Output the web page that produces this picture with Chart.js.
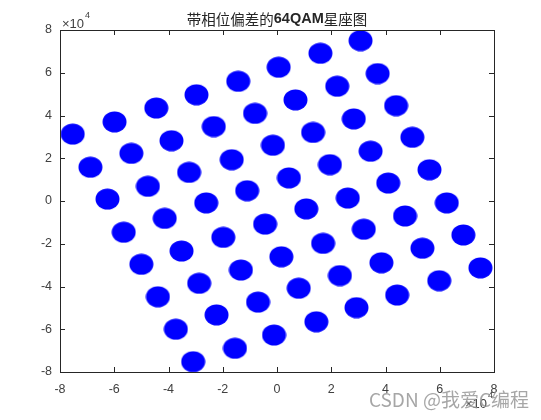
<!DOCTYPE html>
<html>
<head>
<meta charset="utf-8">
<script src="https://cdn.jsdelivr.net/npm/chart.js@4"></script>
<style>
  html, body { margin: 0; padding: 0; background: #fff; }
  #wrap { width: 541px; height: 420px; }
</style>
</head>
<body>
<div id="wrap"><canvas id="qam"></canvas></div>
<script>
// cluster centres (units of 1e4)
const inPhase = [
  -7.53, -5.99, -4.45, -2.97, -1.43, 0.06, 1.60, 3.08,
  -6.88, -5.37, -3.89, -2.33, -0.81, 0.68, 2.22, 3.71,
  -6.25, -4.76, -3.24, -1.67, -0.15, 1.33, 2.83, 4.39,
  -5.65, -4.14, -2.61, -1.10, 0.44, 1.95, 3.45, 4.99,
  -5.00, -3.52, -1.98, -0.44, 1.08, 2.61, 4.10, 5.62,
  -4.39, -2.87, -1.33, 0.16, 1.70, 3.20, 4.72, 6.26,
  -3.73, -2.23, -0.70, 0.80, 2.32, 3.85, 5.36, 6.87,
  -3.09, -1.55, -0.11, 1.45, 2.93, 4.43, 5.98, 7.50,
];
const quadrature = [
  3.13, 3.70, 4.35, 4.97, 5.60, 6.26, 6.91, 7.50,
  1.58, 2.23, 2.82, 3.48, 4.10, 4.73, 5.37, 5.96,
  0.09, 0.69, 1.34, 1.93, 2.61, 3.21, 3.84, 4.46,
  -1.46, -0.81, -0.09, 0.48, 1.08, 1.70, 2.33, 2.98,
  -2.96, -2.34, -1.70, -1.08, -0.37, 0.14, 0.84, 1.46,
  -4.48, -3.85, -3.23, -2.61, -1.98, -1.32, -0.70, -0.09,
  -6.00, -5.33, -4.73, -4.08, -3.49, -2.89, -2.21, -1.59,
  -7.52, -6.89, -6.27, -5.65, -4.99, -4.40, -3.73, -3.13,
];
const tickValues = [-8, -6, -4, -2, 0, 2, 4, 6, 8];
const titleParts = ["带相位偏差的", "64QAM", "星座图"];

const axisColor = "#262626";

// blob marker, a bit wider than tall like the noisy clouds
function blob() {
  const c = document.createElement("canvas");
  c.width = 25; c.height = 22;
  const g = c.getContext("2d");
  g.fillStyle = "#0000ff";
  g.beginPath();
  g.ellipse(12.5, 11, 12, 10.5, 0, 0, Math.PI * 2);
  g.fill();
  return c;
}

const frame = {
  id: "frame",
  afterDraw(chart) {
    const { ctx, chartArea: a, scales } = chart;
    ctx.save();
    ctx.strokeStyle = axisColor;
    ctx.lineWidth = 1;
    ctx.strokeRect(Math.round(a.left) + 0.5, Math.round(a.top) + 0.5,
      Math.round(a.right - a.left), Math.round(a.bottom - a.top));
    ctx.beginPath();
    for (const v of tickValues) {
      const px = Math.round(scales.x.getPixelForValue(v)) + 0.5;
      ctx.moveTo(px, a.bottom); ctx.lineTo(px, a.bottom - 5);
      ctx.moveTo(px, a.top); ctx.lineTo(px, a.top + 5);
      const py = Math.round(scales.y.getPixelForValue(v)) + 0.5;
      ctx.moveTo(a.left, py); ctx.lineTo(a.left + 5, py);
      ctx.moveTo(a.right, py); ctx.lineTo(a.right - 5, py);
    }
    ctx.stroke();

    // title
    ctx.fillStyle = axisColor;
    ctx.textBaseline = "middle";
    const fonts = ['14.5px "Noto Sans CJK SC"', 'bold 14.5px "Liberation Sans"', '14.5px "Noto Sans CJK SC"'];
    let total = 0;
    const widths = titleParts.map((t, i) => { ctx.font = fonts[i]; const w = ctx.measureText(t).width; total += w; return w; });
    let tx = (a.left + a.right) / 2 - total / 2;
    titleParts.forEach((t, i) => { ctx.font = fonts[i]; ctx.textAlign = "left"; ctx.fillText(t, tx, 19); tx += widths[i]; });

    // exponent labels
    ctx.fillStyle = "#404040";
    ctx.font = '13px "Liberation Sans"';
    ctx.fillText("×10", a.left + 2, 24);
    ctx.font = '9px "Liberation Sans"';
    ctx.fillText("4", a.left + 25, 16);
    ctx.font = '13px "Liberation Sans"';
    ctx.fillText("×10", a.right - 29, 404);
    ctx.font = '9px "Liberation Sans"';
    ctx.fillText("4", a.right - 6, 396);

    // watermark
    ctx.font = '19px "Noto Sans CJK SC", "Liberation Sans"';
    ctx.fillStyle = "rgba(150,150,150,0.85)";
    ctx.textAlign = "right";
    ctx.fillText("CSDN @我爱C编程", 529, 400);
    ctx.restore();
  }
};

new Chart(document.getElementById("qam"), {
  type: "scatter",
  data: {
    datasets: [{
      data: inPhase.map((x, i) => ({ x, y: quadrature[i] })),
      pointStyle: blob(),
      pointRadius: 12,
      pointHoverRadius: 12,
      clip: false,
    }],
  },
  options: {
    responsive: true,
    maintainAspectRatio: false,
    animation: false,
    events: [],
    layout: { padding: { top: 30, right: 47, left: 0, bottom: 0 } },
    plugins: { legend: { display: false }, tooltip: { enabled: false } },
    scales: {
      x: {
        min: -8, max: 8,
        afterFit: s => { s.height = 48; },
        afterBuildTicks: s => { s.ticks = tickValues.map(value => ({ value })); },
        grid: { display: false, drawTicks: false },
        border: { display: false },
        ticks: { color: "#404040", font: { family: "Liberation Sans", size: 12.5 }, padding: 10, maxRotation: 0 },
      },
      y: {
        min: -8, max: 8,
        afterFit: s => { s.width = 60; },
        afterBuildTicks: s => { s.ticks = tickValues.map(value => ({ value })); },
        grid: { display: false, drawTicks: false },
        border: { display: false },
        ticks: { color: "#404040", font: { family: "Liberation Sans", size: 12.5 }, padding: 8 },
      },
    },
  },
  plugins: [frame],
});
</script>
</body>
</html>
